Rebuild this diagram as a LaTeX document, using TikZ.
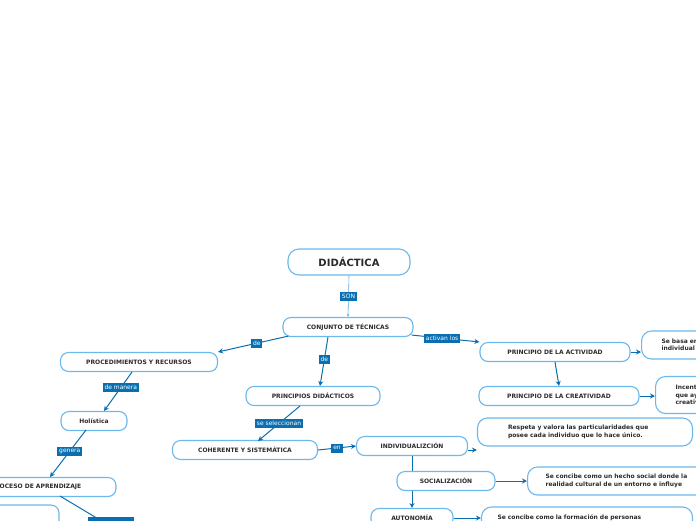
\documentclass[tikz,border=0pt]{standalone}
\usepackage{fontspec}
\setmainfont{DejaVu Sans}
\usetikzlibrary{arrows.meta}
\definecolor{bord}{HTML}{6BB8EC}
\definecolor{conn}{HTML}{0A6FB0}
\definecolor{txt}{HTML}{2B2B2B}
\tikzset{
  x=1pt,y=-1pt,
  box/.style={draw=bord,line width=1.1pt,rounded corners=8pt,fill=white,text=txt,font=\fontsize{6}{7}\selectfont\bfseries,minimum height=19pt,inner sep=2pt,align=center},
  tbox/.style={draw=bord,line width=1.1pt,rounded corners=10pt,fill=white,text=txt,font=\fontsize{6}{7.5}\selectfont\bfseries,minimum height=28pt,inner sep=2pt,align=left,text width=#1},
  lab/.style={fill=conn,text=white,font=\fontsize{6}{6.5}\selectfont,inner sep=1.8pt,minimum height=9pt},
  con/.style={draw=conn,line width=1pt},
  arr/.style={con,-{Stealth[length=5pt,width=5pt]}},
}
\begin{document}
\begin{tikzpicture}
\useasboundingbox (0,0) rectangle (696,520);
\clip (0,0) rectangle (696,520);
\node[box,minimum width=122pt,minimum height=26pt,rounded corners=11pt,font=\fontsize{10}{11}\selectfont\bfseries] (did) at (349,262) {DIDÁCTICA};
\node[box,minimum width=130pt] (con) at (348,327) {CONJUNTO DE TÉCNICAS};
\node[box,minimum width=157pt] (proc) at (139,362) {PROCEDIMIENTOS Y RECURSOS};
\node[box,minimum width=66pt] (hol) at (94,421) {Holística};
\node[box,minimum width=160pt] (pa) at (36,487) {PROCESO DE APRENDIZAJE};
\node[box,minimum width=110pt,minimum height=28pt,align=left,text width=100pt] (ser) at (4,519) {Ser\\};
\node[box,minimum width=134pt] (pd) at (313,396) {PRINCIPIOS DIDÁCTICOS};
\node[box,minimum width=145pt] (coh) at (245,450) {COHERENTE Y SISTEMÁTICA};
\node[box,minimum width=111pt] (ind) at (412,446) {INDIVIDUALIZCIÓN};
\node[tbox=170pt,minimum width=215pt] (resp) at (585,432) {\hspace*{8pt}Respeta y valora las particularidades que\\\hspace*{8pt}posee cada individuo que lo hace único.};
\node[box,minimum width=98pt] (soc) at (446,481) {SOCIALIZACIÓN};
\node[tbox=200pt,minimum width=220pt,anchor=west] (socT) at (527,481) {\hspace*{8pt}Se concibe como un hecho social donde la\\\hspace*{8pt}realidad cultural de un entorno e influye};
\node[box,minimum width=82pt] (aut) at (412,518) {AUTONOMÍA};
\node[tbox=195pt,minimum width=211pt] (autT) at (587,521) {\hspace*{8pt}Se concibe como la formación de personas\\\hspace*{8pt}autónomas};
\node[box,minimum width=150pt] (pact) at (555,352) {PRINCIPIO DE LA ACTIVIDAD};
\node[tbox=120pt,minimum width=140pt,anchor=west] (pactT) at (641,345) {\hspace*{10pt}Se basa en la actividad\\\hspace*{10pt}individual};
\node[box,minimum width=160pt] (pcre) at (559,396) {PRINCIPIO DE LA CREATIVIDAD};
\node[tbox=120pt,minimum width=140pt,minimum height=37pt,anchor=west] (pcreT) at (655,395) {\hspace*{10pt}Incentiva actividades\\\hspace*{10pt}que ayuden a la\\\hspace*{10pt}creatividad};
% connectors
\draw[con,draw=bord!80!conn,line width=0.6pt,-{Stealth[length=3pt]}] (did.south) -- node[lab,pos=0.5]{SON} (con.north);
\draw[arr] (con.south west)++(6,-1) -- node[lab,pos=0.45]{de} (proc.north east);
\draw[arr] (con.south)++(-20,0) -- node[lab,pos=0.45]{de} (320,386);
\draw[arr] (con.south east)++(-2,-2) -- node[lab,pos=0.45]{activan los} (pact.north west);
\draw[arr] (pact.east) -- (pact.east -| pactT.west);
\draw[arr] (pact.south) -- (pcre.north);
\draw[arr] (pcre.east) -- (pcre.east -| pcreT.west);
\draw[arr] (132,372) -- node[lab,pos=0.4]{de manera} (104,411);
\draw[arr] (86,430) -- node[lab,pos=0.45]{genera} (50,477);
\draw[arr] (300,406) -- node[lab,pos=0.5]{se seleccionan} (258,441);
\draw[arr] (coh.east) -- node[lab,pos=0.5]{en} (ind.west);
\draw[arr] ([yshift=-4pt]ind.east) -- ([yshift=-4pt]ind.east -| resp.west);
\draw[con] (ind.south) -- (soc.north -| ind.south);
\draw[arr] (soc.south -| ind.south) -- (aut.north);
\draw[arr] (soc.east) -- (socT.west);
\draw[arr] (aut.east) -- (aut.east -| autT.west);
\draw[con] (60,496) -- (100,520);
\node[lab,minimum width=46pt] at (111,521) {};
\end{tikzpicture}
\end{document}
